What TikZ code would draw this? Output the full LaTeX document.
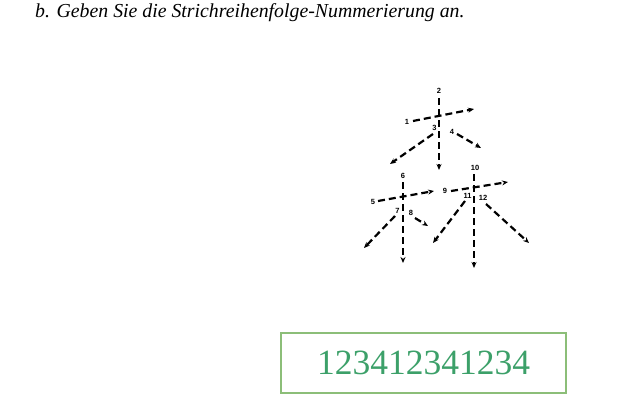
\documentclass[tikz,border=0pt]{standalone}
\usepackage{fontspec}
\setmainfont{Liberation Serif}
\setsansfont{Liberation Sans}
\usetikzlibrary{arrows.meta}
\definecolor{ansgreen}{RGB}{60,160,105}
\definecolor{boxgreen}{RGB}{140,190,120}
\tikzstyle{stroke} = [line width=2.2pt, dash pattern=on 7pt off 4pt, -{Stealth[length=6pt,width=5pt]}]
\tikzstyle{num} = [inner sep=0pt, font=\sffamily\bfseries\fontsize{7.5}{7.5}\selectfont]

\begin{document}
\begin{tikzpicture}[x=1pt, y=-1pt]
    \useasboundingbox (0,0) rectangle (640,420);

    % Aufgabe
    \node (title) [anchor=base west, inner sep=0pt, font=\itshape\fontsize{19.8}{22}\selectfont] at (35,18) {b. Geben Sie die Strichreihenfolge-Nummerierung an.};

    % oberes Zeichen
    \node (n1) [num] at (407,122) {1};
    \node (n2) [num] at (439,91) {2};
    \node (n3) [num] at (434.5,128) {3};
    \node (n4) [num] at (452,132) {4};
    \coordinate (a1) at (413,121); \coordinate (b1) at (474,109);
    \coordinate (a2) at (439,98);  \coordinate (b2) at (439,170);
    \coordinate (a3) at (433,134); \coordinate (b3) at (390,164);
    \coordinate (a4) at (457,134); \coordinate (b4) at (481,148);

    % unten links
    \node (n5) [num] at (373,202) {5};
    \node (n6) [num] at (403,176) {6};
    \node (n7) [num] at (397.5,211) {7};
    \node (n8) [num] at (411,213) {8};
    \coordinate (a5) at (378,201); \coordinate (b5) at (434,191);
    \coordinate (a6) at (403,182); \coordinate (b6) at (403,263);
    \coordinate (a7) at (395,216); \coordinate (b7) at (364,248);
    \coordinate (a8) at (415,218); \coordinate (b8) at (428,226);

    % unten rechts
    \node (n9) [num] at (445,191) {9};
    \node (n10) [num] at (475,168) {10};
    \node (n11) [num] at (467.5,196) {11};
    \node (n12) [num] at (483,198) {12};
    \coordinate (a9) at (451,191);   \coordinate (b9) at (508,182);
    \coordinate (a10) at (474,174);  \coordinate (b10) at (474,268);
    \coordinate (a11) at (465,201);  \coordinate (b11) at (433,243);
    \coordinate (a12) at (486,204);  \coordinate (b12) at (529,243);

    % Striche
    \foreach \i in {1,...,12}
        \draw [stroke] (a\i) -- (b\i);

    % Antwort
    \node (answer) [draw=boxgreen, line width=1.2pt, minimum width=285pt, minimum height=60pt, inner sep=0pt, text=ansgreen, font=\fontsize{35.5}{38}\selectfont] at (423.5,363) {123412341234};
\end{tikzpicture}
\end{document}
